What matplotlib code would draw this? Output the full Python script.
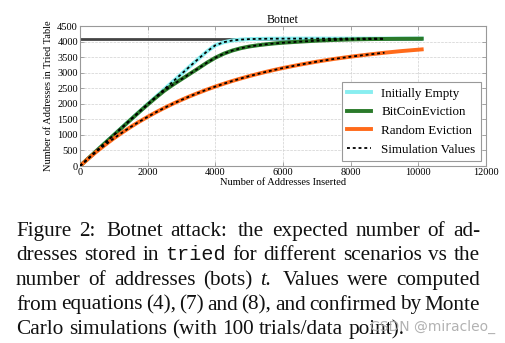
import matplotlib
matplotlib.use("Agg")
from matplotlib import pyplot as plt

# addresses inserted
t = [0, 250, 500, 750, 1000, 1250, 1500, 1750, 2000, 2250, 2500, 2750, 3000,
     3250, 3500, 3750, 4000, 4250, 4500, 4750, 5000, 5250, 5500, 5750, 6000,
     6500, 7000, 7500, 8000, 8500, 9000, 9500, 10100]

initially_empty = [0, 250, 500, 749, 998, 1247, 1495, 1742, 1988, 2232, 2475, 2718, 2960,
                   3205, 3445, 3680, 3880, 3980, 4035, 4063, 4078, 4086, 4090, 4093, 4094,
                   4095, 4096, 4096, 4096, 4096, 4096, 4096, 4096]

bitcoin_eviction = [0, 250, 499, 747, 994, 1242, 1490, 1735, 1975, 2205, 2425, 2615, 2790,
                    2965, 3140, 3320, 3480, 3610, 3710, 3785, 3840, 3880, 3912, 3940, 3962,
                    3997, 4027, 4050, 4066, 4077, 4084, 4089, 4092]

random_eviction = [0, 242, 471, 685, 888, 1077, 1256, 1424, 1581, 1731, 1871, 2003, 2126,
                   2243, 2351, 2456, 2553, 2645, 2732, 2812, 2888, 2959, 3027, 3090, 3150,
                   3257, 3354, 3440, 3514, 3580, 3641, 3694, 3748]

sim_end = 9000
tried_size = 4096

serif = "Liberation Serif"
plt.rcParams["font.family"] = [serif, "DejaVu Serif"]

W, H = 505, 343
fig = plt.figure(figsize=(W / 100, H / 100), dpi=100)
ax = fig.add_axes([80 / W, 1 - 166 / H, 406 / W, 140 / H])

ax.grid(True, color="#d0d0d0", linestyle="--", linewidth=0.5)
ax.set_axisbelow(True)

ax.hlines(tried_size, 0, 10100, color="#444444", linewidth=2, zorder=1)
ax.plot(t, initially_empty, color="#88eef0", linewidth=2.8, label="Initially Empty", zorder=2)
ax.plot(t, bitcoin_eviction, color="#2a7a2a", linewidth=2.8, label="BitCoinEviction", zorder=3)
ax.plot(t, random_eviction, color="#ff6a1a", linewidth=2.8, label="Random Eviction", zorder=3)

n = t.index(sim_end) + 1
dots = (0, (1.6, 1.6))
for i, ys in enumerate([initially_empty, bitcoin_eviction, random_eviction]):
    ax.plot(t[:n], ys[:n], color="black", linewidth=1.3, linestyle=dots, zorder=4,
            label="Simulation Values" if i == 0 else None)

ax.set_xlim(0, 12000)
ax.set_ylim(0, 4500)
ax.set_xticks(range(0, 12001, 2000))
ax.set_yticks(range(0, 4501, 500))
ax.tick_params(labelsize=7.5, direction="in", length=3, width=0.5, color="#888888",
               pad=1.5, top=True, right=True)
for s in ax.spines.values():
    s.set_color("#999999")
    s.set_linewidth(0.8)

ax.set_title("Botnet", fontsize=8.5, pad=2)
ax.set_xlabel("Number of Addresses Inserted", fontsize=7.5, labelpad=1)
ax.set_ylabel("Number of Addresses in Tried Table", fontsize=7.5, labelpad=3)

leg = ax.legend(loc="lower right", fontsize=9.4, handlelength=1.8, borderaxespad=0.4,
                fancybox=False, framealpha=1, edgecolor="#999999")
leg.get_frame().set_linewidth(0.8)

# caption below the chart, justified like the paper
caption = [
    [("Figure", "r"), ("2:", "r"), (" ", "r"), ("Botnet", "r"), ("attack:", "r"), (" ", "r"),
     ("the", "r"), ("expected", "r"), ("number", "r"), ("of", "r"), ("ad-", "r")],
    [("dresses", "r"), ("stored", "r"), ("in", "r"), ("tried", "m"), ("for", "r"),
     ("different", "r"), ("scenarios", "r"), ("vs", "r"), ("the", "r")],
    [("number", "r"), ("of", "r"), ("addresses", "r"), ("(bots)", "r"), ("t.", "i"), (" ", "r"),
     ("Values", "r"), ("were", "r"), ("computed", "r")],
    [("from", "r"), ("equations", "r"), ("(4),", "r"), ("(7)", "r"), ("and", "r"), ("(8),", "r"),
     ("and", "r"), ("confirmed", "r"), ("by", "r"), ("Monte", "r")],
    [("Carlo", "r"), ("simulations", "r"), ("(with", "r"), ("100", "r"),
     ("trials/data", "r"), ("point).", "r")],
]
baselines = [236, 260.5, 285, 309.5, 334]
left, right = 16, 480
fs = 15.3

renderer = fig.canvas.get_renderer()


def make_word(word, style):
    kw = dict(fontsize=fs, va="baseline", ha="left", color="#111111")
    if style == "m":
        kw["family"] = ["Liberation Mono", "DejaVu Sans Mono"]
        kw["fontsize"] = fs * 0.95
    elif style == "i":
        kw["family"] = [serif]
        kw["style"] = "italic"
    else:
        kw["family"] = [serif]
    return fig.text(0, 0, word, **kw)


space_w = make_word("a a", "r").get_window_extent(renderer).width - \
    make_word("aa", "r").get_window_extent(renderer).width
for txt in list(fig.texts):
    txt.remove()

for li, line in enumerate(caption):
    items = [w for w in line if w[0] != " "]
    texts = [make_word(w, s) for w, s in items]
    widths = [tx.get_window_extent(renderer).width for tx in texts]
    extra = [0.0]
    for w in line[1:]:
        if w[0] == " ":
            extra[-1] += space_w * 0.6
        else:
            extra.append(0.0)
    gaps = len(texts) - 1
    if li == len(caption) - 1:
        gap = space_w
    else:
        gap = (right - left - sum(widths) - sum(extra)) / gaps
    x = left
    for j, tx in enumerate(texts):
        tx.set_position((x / W, 1 - baselines[li] / H))
        x += widths[j] + gap + (extra[j] if j < len(extra) else 0)

fig.text(370 / W, 1 - 327 / H, "CSDN @miracleo_", fontsize=10, color="#aaaaaa",
         family=["DejaVu Sans"], va="center", ha="left", alpha=0.9)

fig.savefig("out.png", dpi=100)
